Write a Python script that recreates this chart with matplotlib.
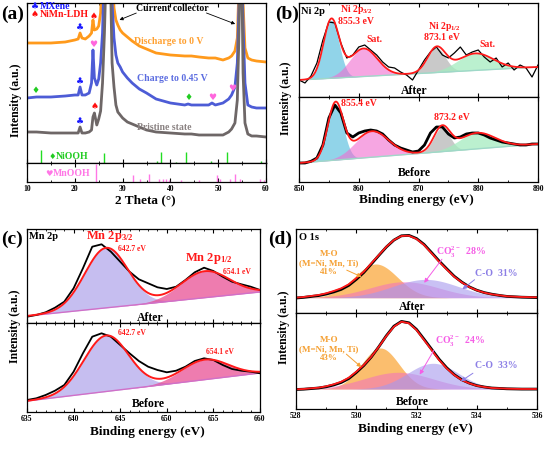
import numpy as np
import matplotlib
matplotlib.use("Agg")
import matplotlib.pyplot as plt
from matplotlib.ticker import MultipleLocator

# ---------------- (a) XRD ----------------
two_theta = [10, 12, 15, 18, 20, 20.7, 21.1, 21.5, 22.2, 23.0,
             23.5, 23.8, 24.1, 24.6, 25.0, 25.4, 25.8, 26.2, 26.6, 27.0,
             27.4, 27.8, 28.2, 28.6, 29.0, 29.5, 30, 31, 32, 33.5,
             35, 37, 40, 43, 43.7, 44.4, 46, 48, 48.7, 49.4,
             51, 52.2, 52.8, 53.5, 54.0, 54.3, 54.6, 54.9, 55.2, 55.6,
             56.2, 57, 58, 60]
xrd_pristine = [31, 31, 30, 30, 30, 30, 36, 30, 30, 31,
                33, 46, 50, 38, 44, 52, 80, 130, 200, 200,
                200, 100, 76, 58, 51, 48, 45, 41, 39, 36,
                33, 31, 30, 29, 29, 29, 28, 28, 28, 28,
                28, 31, 34, 40, 63, 120, 200, 200, 90, 40,
                29, 27, 27, 26]
xrd_charge = [65, 66, 66, 67, 68, 68, 76, 68, 68, 70,
              80, 113, 85, 78, 84, 100, 130, 200, 200, 200,
              200, 160, 125, 108, 100, 96, 91, 85, 80, 74,
              70, 64, 60, 58, 59, 58, 58, 58, 60, 58,
              60, 64, 68, 76, 100, 150, 200, 200, 140, 80,
              58, 56, 55, 55]
xrd_discharge = [120, 120, 120, 121, 123, 124, 130, 125, 124, 127,
                 130, 143, 133, 134, 137, 150, 200, 200, 200, 200,
                 200, 200, 155, 143, 138, 133, 130, 126, 122, 117,
                 114, 110, 108, 107, 107, 107, 106, 105, 105, 105,
                 103, 105, 107, 112, 125, 170, 200, 200, 160, 115,
                 105, 103, 102, 101]
mxene_peak = 21.1
ldh_peak_discharge, ldh_peak_pristine = 23.9, 24.1
mnooh_peaks_charge = [23.8, 48.8, 52.9]
niooh_peaks_charge = [11.7, 43.9]

niooh_pos = [12.9, 26.2, 37.1, 38.0, 41.2, 43.3, 48.4, 51.8, 58.9]
niooh_int = [13, 10, 2, 11, 1, 11, 2.5, 11, 2.5]
mnooh_pos = [24.4, 32.2, 33.7, 35.5, 37.7, 38.4, 39.1, 39.8, 42.3, 46.0,
             49.7, 50.4, 52.4, 53.6, 54.6, 58.8, 59.5]
mnooh_int = [18, 7, 3, 8, 3, 3, 3, 2, 2, 2, 7, 3, 3, 8, 3, 3, 2]

# ---------------- (b) Ni 2p ----------------
ni_be = list(range(850, 891))
ni_after = [17, 14, 21, 34, 57, 75, 74, 54, 39, 42, 50, 52, 47, 42, 35, 30, 29,
            25, 22, 17, 27, 37, 45, 50, 42, 39, 44, 50, 42, 45, 47, 40, 35, 39,
            30, 34, 27, 32, 29, 20, 32]
ni_before = [19, 19, 20.7, 24, 37, 64, 77, 69, 49, 45, 49, 51, 52, 51, 48, 42,
             37, 34, 32, 30, 31, 37, 49, 55, 55, 48, 44, 45, 48, 49, 49, 47, 44,
             42, 40, 39, 38, 37, 37, 38, 38]
ni_after_center = [855.4, 860.8, 873.0, 879.5]
ni_after_height = [58, 28, 24.5, 17]
ni_after_sigma = [1.3, 2.3, 1.5, 3.0]
ni_after_bg = [17, 30]
ni_before_center = [856.1, 862.2, 873.9, 879.8]
ni_before_height = [56, 26, 24, 16]
ni_before_sigma = [1.3, 2.8, 1.35, 3.0]
ni_before_bg = [19, 38]

# ---------------- (c) Mn 2p ----------------
mn_be = list(range(635, 661))
mn_after = [6.3, 8, 10.7, 15.3, 21.3, 34.7, 54.7, 76.3, 78.7, 71.3, 61.3, 51.3,
            43.7, 39.7, 35.7, 34, 36.3, 43, 50.7, 55.3, 52, 46.3, 41.3, 38.7,
            36.3, 33]
mn_before = [12, 13.7, 17, 21.3, 27, 40.3, 58.7, 75.3, 78.7, 75.3, 67, 58.7, 51,
             45.3, 42, 39.7, 41.3, 45.3, 51, 53.7, 52, 47, 43, 41.3, 40.3, 38.7]
mn_after_center = [643.5, 654.1]
mn_after_height = [60, 26.5]
mn_after_sigma = [2.3, 2.6]
mn_after_bg = [7, 31]
mn_before_center = [643.5, 654.1]
mn_before_height = [56, 20]
mn_before_sigma = [2.4, 2.5]
mn_before_bg = [11, 39]

# ---------------- (d) O 1s ----------------
o_be = [528, 528.25, 528.5, 528.75, 529, 529.25, 529.5, 529.75, 530, 530.25,
        530.5, 530.75, 531, 531.25, 531.5, 531.75, 532, 532.25, 532.5, 532.75,
        533, 533.25, 533.5, 533.75, 534, 534.25, 534.5, 534.75, 535, 535.5, 536]
o_after_fit = [15.3, 16, 17, 18, 19.7, 22, 24.7, 28.7, 34.7, 41.3, 49.7, 58,
               66.3, 73, 77, 77.3, 74, 68, 59.7, 51.3, 43.7, 36.3, 30.7, 26,
               22.7, 20.3, 18.7, 17.7, 16.7, 16, 15.7]
o_after_data = [15.0, 15.6, 16.5, 17.4, 18.9, 21.0, 23.6, 27.6, 33.6, 40.5,
                49.0, 57.6, 66.0, 72.9, 77.2, 77.6, 74.5, 68.6, 60.4, 52.0,
                44.3, 36.8, 31.0, 26.2, 22.8, 20.4, 18.8, 17.6, 16.6, 15.8, 15.4]
o_before_fit = [19.7, 20, 20.7, 21.3, 22.7, 24.7, 27.3, 31.3, 37.3, 44, 52.3,
                62.3, 73, 82.3, 87.3, 85.7, 79, 69, 59, 49, 40.7, 34, 29, 25.7,
                23.3, 22, 21, 20.7, 20.3, 20, 20]
o_before_data = [19.5, 19.8, 20.4, 21.0, 22.2, 24.0, 26.5, 30.4, 36.5, 43.5,
                 52.0, 62.3, 73.3, 82.8, 87.6, 86.2, 79.6, 69.8, 59.8, 49.8,
                 41.3, 34.4, 29.3, 25.9, 23.4, 22.0, 21.0, 20.6, 20.2, 19.9, 19.9]
o_after_center = [530.65, 531.6, 532.3]
o_after_height = [33.7, 16, 18.3]
o_after_sigma = [0.72, 1.15, 1.1]
o_after_bg = 15.3
o_before_center = [530.8, 531.4, 532.55]
o_before_height = [41, 16.7, 25.7]
o_before_sigma = [0.62, 1.15, 0.85]
o_before_bg = 20
o_labels_after = ["41%", "28%", "31%"]
o_labels_before = ["43%", "24%", "33%"]

plt.rcParams.update({
    "font.family": ["Liberation Serif", "DejaVu Sans"],
    "font.weight": "bold",
    "mathtext.fontset": "custom",
    "mathtext.rm": "Liberation Serif:bold",
    "mathtext.it": "Liberation Serif:bold",
    "mathtext.bf": "Liberation Serif:bold",
    "axes.linewidth": 0.9,
    "xtick.direction": "in",
    "xtick.major.size": 3,
    "xtick.minor.size": 1.6,
    "xtick.major.width": 0.8,
    "xtick.minor.width": 0.6,
    "xtick.labelsize": 5.5,
    "xtick.major.pad": 2.5,
})

W, H = 554, 450
fig = plt.figure(figsize=(W / 100, H / 100), dpi=100)


def box(l, t, r, b):
    return [l / W, 1 - b / H, (r - l) / W, (b - t) / H]


def frame(ax, xlim, ylim, major, minor, labels):
    ax.set_xlim(*xlim)
    ax.set_ylim(*ylim)
    ax.xaxis.set_major_locator(MultipleLocator(major))
    ax.xaxis.set_minor_locator(MultipleLocator(minor))
    ax.set_yticks([])
    ax.tick_params(axis="x", which="both", top=True, bottom=True,
                   labelbottom=labels)


def gauss(x, c, h, s):
    return h * np.exp(-0.5 * ((x - c) / s) ** 2)


RED = "#ff1a1a"

# ======== (a) ========
axa = fig.add_axes(box(27, 3, 266, 163))
axa2 = fig.add_axes(box(27, 163, 266, 182))
frame(axa, (10, 60), (0, 160), 10, 5, False)
frame(axa2, (10, 60), (0, 19), 10, 5, True)

c_dis, c_chg, c_pri = "#ff9a1c", "#4d5cd6", "#6e6767"
axa.plot(two_theta, xrd_discharge, color=c_dis, lw=2.0)
axa.plot(two_theta, xrd_charge, color=c_chg, lw=2.0)
axa.plot(two_theta, xrd_pristine, color=c_pri, lw=2.0)

sym = dict(ha="center", va="bottom", fontsize=6.5, family="DejaVu Sans")
for curve in (xrd_discharge, xrd_charge, xrd_pristine):
    axa.text(mxene_peak, np.interp(mxene_peak, two_theta, curve) + 1, "\u2663",
             color="#1a1aff", **sym)
axa.text(ldh_peak_discharge, np.interp(ldh_peak_discharge, two_theta, xrd_discharge) + 2,
         "\u2660", color="#ff1010", **sym)
axa.text(ldh_peak_pristine, np.interp(ldh_peak_pristine, two_theta, xrd_pristine) + 2,
         "\u2660", color="#ff1010", **sym)
for p in mnooh_peaks_charge:
    axa.text(p, np.interp(p, two_theta, xrd_charge) + 1, "\u2665",
             color="#ff66dd", **sym)
for p in niooh_peaks_charge:
    axa.text(p, np.interp(p, two_theta, xrd_charge) + 2, "\u2666",
             color="#22cc22", **sym)

axa.text(11.6, 156, "\u2663", color="#1a1aff", ha="center", va="center",
         fontsize=6.5, family="DejaVu Sans")
axa.text(12.6, 156, "MXene", color="#1a1aff", ha="left", va="center", fontsize=7)
axa.text(11.6, 148, "\u2660", color="#ff1010", ha="center", va="center",
         fontsize=6.5, family="DejaVu Sans")
axa.text(12.6, 148, "NiMn-LDH", color="#ff1010", ha="left", va="center", fontsize=7)

axa.text(40.3, 154.5, "Current collector", ha="center", va="center", fontsize=7)
arr = dict(arrowstyle="-|>", color="k", lw=0.6, mutation_scale=5)
axa.annotate("", xy=(28.8, 142), xytext=(33.4, 151), arrowprops=arr)
axa.annotate("", xy=(54.1, 138), xytext=(47.0, 151), arrowprops=arr)

axa.text(32.4, 121, "Discharge to 0 V", color="#ffa030", ha="left", va="center", fontsize=7)
axa.text(33.0, 84, "Charge to 0.45 V", color="#5b6ce0", ha="left", va="center", fontsize=7)
axa.text(33.0, 35, "Pristine state", color="#8a8282", ha="left", va="center", fontsize=7)

axa.vlines(niooh_pos, 0, niooh_int, color="#22dd22", lw=1.0)
axa.text(15.4, 6.5, "\u2666", color="#22cc22", ha="center", va="center",
         fontsize=6, family="DejaVu Sans")
axa.text(16.0, 6.5, "NiOOH", color="#22cc22", ha="left", va="center", fontsize=7)
axa2.vlines(mnooh_pos, 0, mnooh_int, color="#ff77e6", lw=1.0)
axa2.text(14.6, 8, "\u2665", color="#ff77e6", ha="center", va="center",
          fontsize=6, family="DejaVu Sans")
axa2.text(15.3, 8, "MnOOH", color="#ff77e6", ha="left", va="center", fontsize=7)


# ======== XPS helper ========
def xps(ax, xr, centers, heights, sigmas, bg, colors, alphas):
    x = np.linspace(xr[0], xr[1], 600)
    base = np.interp(x, [xr[0], xr[1]], bg) if np.ndim(bg) else np.full_like(x, bg)
    total = base.copy()
    for c, h, s, col, a in zip(centers, heights, sigmas, colors, alphas):
        comp = gauss(x, c, h, s)
        ax.fill_between(x, base, base + comp, color=col, alpha=a, lw=0)
        total += comp
    return x, base, total


# ======== (b) ========
axb1 = fig.add_axes(box(299, 3, 538, 97))
axb2 = fig.add_axes(box(299, 97, 538, 182))
frame(axb1, (850, 890), (0, 94), 10, 5, False)
frame(axb2, (850, 890), (0, 85), 10, 5, True)
ni_cols = ["#6cc6e2", "#f16bd0", "#a6a6a6", "#a4ecbf"]
ni_alph = [0.75, 0.6, 0.6, 0.75]
for ax, data, cen, hei, sig, bg, lw in (
        (axb1, ni_after, ni_after_center, ni_after_height, ni_after_sigma, ni_after_bg, 0.9),
        (axb2, ni_before, ni_before_center, ni_before_height, ni_before_sigma, ni_before_bg, 2.0)):
    x, base, total = xps(ax, (850, 890), cen, hei, sig, bg, ni_cols, ni_alph)
    ax.plot(x, base, color="#9fd8c8", lw=1.0)
    ax.plot(ni_be, data, color="k", lw=lw)
    ax.plot(x, total, color=RED, lw=1.3)

axb1.text(850.4, 85, "Ni 2p", ha="left", va="center", fontsize=7.5)
axb1.text(859.6, 87, "Ni 2p$_{3/2}$", color=RED, ha="center", va="center", fontsize=7)
axb1.text(859.6, 75, "855.3 eV", color=RED, ha="center", va="center", fontsize=7)
axb1.text(862.7, 57, "Sat.", color=RED, ha="center", va="center", fontsize=7)
axb1.text(874.3, 70, "Ni 2p$_{1/2}$", color=RED, ha="center", va="center", fontsize=7)
axb1.text(873.9, 59, "873.1 eV", color=RED, ha="center", va="center", fontsize=7)
axb1.text(881.6, 52, "Sat.", color=RED, ha="center", va="center", fontsize=7)
axb1.text(869.2, 6, "After", ha="center", va="center", fontsize=8.5)
axb2.text(857.0, 79, "855.4 eV", color=RED, ha="left", va="center", fontsize=7)
axb2.text(875.6, 64, "873.2 eV", color=RED, ha="center", va="center", fontsize=7)
axb2.text(869.3, 9, "Before", ha="center", va="center", fontsize=8.5)

# ======== (c) ========
axc1 = fig.add_axes(box(27, 229, 260, 323))
axc2 = fig.add_axes(box(27, 323, 260, 412))
frame(axc1, (635, 660), (0, 94), 5, 1, False)
frame(axc2, (635, 660), (0, 89), 5, 1, True)
mn_cols = ["#a89ce8", "#e8458e"]
mn_alph = [0.65, 0.7]
for ax, data, cen, hei, sig, bg in (
        (axc1, mn_after, mn_after_center, mn_after_height, mn_after_sigma, mn_after_bg),
        (axc2, mn_before, mn_before_center, mn_before_height, mn_before_sigma, mn_before_bg)):
    x, base, total = xps(ax, (635, 660), cen, hei, sig, bg, mn_cols, mn_alph)
    ax.plot(x, base, color="#d070c8", lw=1.0)
    ax.plot(mn_be, data, color="k", lw=1.3)
    ax.plot(x, total, color=RED, lw=1.4)

axc1.text(635.2, 86, "Mn 2p", ha="left", va="center", fontsize=7.5)
axc1.text(643.9, 86, "Mn 2p$_{3/2}$", color=RED, ha="center", va="center", fontsize=9)
axc1.text(646.3, 74, "642.7 eV", color=RED, ha="center", va="center", fontsize=5.5)
axc1.text(654.5, 65, "Mn 2p$_{1/2}$", color=RED, ha="center", va="center", fontsize=9)
axc1.text(657.5, 51, "654.1 eV", color=RED, ha="center", va="center", fontsize=5.5)
axc1.text(648.2, 5, "After", ha="center", va="center", fontsize=8.5)
axc2.text(646.3, 79, "642.7 eV", color=RED, ha="center", va="center", fontsize=5.5)
axc2.text(655.7, 60, "654.1 eV", color=RED, ha="center", va="center", fontsize=5.5)
axc2.text(648.0, 8, "Before", ha="center", va="center", fontsize=8.5)

# ======== (d) ========
axd1 = fig.add_axes(box(296, 229, 537, 313))
axd2 = fig.add_axes(box(296, 313, 537, 409))
frame(axd1, (528, 536), (0, 84), 2, 1, False)
frame(axd2, (528, 536), (0, 96), 2, 1, True)
o_cols = ["#fbae4a", "#f068c8", "#a699ee"]
o_alph = [0.8, 0.5, 0.6]
c_mo, c_co3, c_co = "#f5a033", "#f55ee6", "#8c7fe6"
for ax, fit, data, cen, hei, sig, bg in (
        (axd1, o_after_fit, o_after_data, o_after_center, o_after_height, o_after_sigma, o_after_bg),
        (axd2, o_before_fit, o_before_data, o_before_center, o_before_height, o_before_sigma, o_before_bg)):
    xps(ax, (528, 536), cen, hei, sig, bg, o_cols, o_alph)
    ax.plot(o_be, data, color="k", lw=2.0)
    ax.plot(o_be, fit, color=RED, lw=1.3)


def o_notes(ax, pct, mo_xy, mo_arrow, co3_xy, co3_arrow, co_xy, co_arrow):
    ax.text(mo_xy[0], mo_xy[1], "M-O\n(M=Ni, Mn, Ti)\n" + pct[0], color=c_mo,
            ha="center", va="center", fontsize=6.5, linespacing=1.25)
    ax.text(co3_xy[0], co3_xy[1], "CO$_3^{2-}$  " + pct[1], color=c_co3,
            ha="left", va="center", fontsize=7)
    ax.text(co_xy[0], co_xy[1], "C-O  " + pct[2], color=c_co,
            ha="left", va="center", fontsize=7)
    for (tail, head), col in ((mo_arrow, c_mo), (co3_arrow, c_co3), (co_arrow, c_co)):
        ax.annotate("", xy=head, xytext=tail,
                    arrowprops=dict(arrowstyle="-|>", color=col, lw=0.7, mutation_scale=6))


axd1.text(528.1, 76, "O 1s", ha="left", va="center", fontsize=7.5)
o_notes(axd1, o_labels_after, (529.1, 50),
        ((529.6, 44), (530.26, 35)),
        (532.65, 61), ((532.9, 56), (532.2, 28)),
        (533.95, 40), ((534.0, 35), (533.45, 22)))
axd1.text(531.85, 6.3, "After", ha="center", va="center", fontsize=8.5)
o_notes(axd2, o_labels_before, (529.1, 60),
        ((529.6, 56.7), (530.24, 40)),
        (532.6, 67.3), ((532.62, 61), (532.06, 32)),
        (533.95, 44), ((533.95, 37.3), (533.4, 26.3)))
axd2.text(531.85, 6.7, "Before", ha="center", va="center", fontsize=8.5)

# ======== labels ========
lab = dict(fontsize=9.5, ha="center", va="center")
fig.text(145 / W, 1 - 200 / H, "2 Theta (\u00b0)", **lab)
fig.text(416 / W, 1 - 200 / H, "Binding energy (eV)", **lab)
fig.text(147 / W, 1 - 432 / H, "Binding energy (eV)", **lab)
fig.text(415 / W, 1 - 429 / H, "Binding energy (eV)", **lab)
ylab = dict(fontsize=8.5, ha="center", va="center", rotation=90)
fig.text(16 / W, 1 - 100 / H, "Intensity (a.u.)", **ylab)
fig.text(286 / W, 1 - 98 / H, "Intensity (a.u.)", **ylab)
fig.text(15 / W, 1 - 326 / H, "Intensity (a.u.)", **ylab)
fig.text(284 / W, 1 - 327 / H, "Intensity (a.u.)", **ylab)
pl = dict(fontsize=14, ha="left", va="center")
fig.text(1 / W, 1 - 14 / H, "(a)", **pl)
fig.text(275 / W, 1 - 14 / H, "(b)", **pl)
fig.text(1 / W, 1 - 239 / H, "(c)", **pl)
fig.text(268 / W, 1 - 239 / H, "(d)", **pl)

fig.savefig("out.png", dpi=100)
